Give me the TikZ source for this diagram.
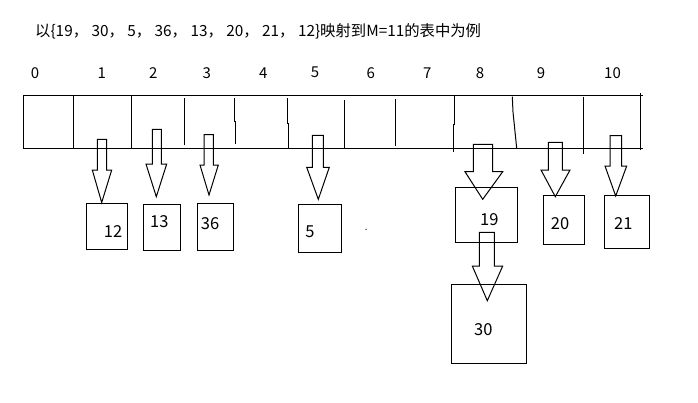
\documentclass[tikz,border=0pt]{standalone}
\usepackage{fontspec}
\setmainfont{Noto Sans CJK SC}
\newfontfamily\cjk{Noto Sans CJK SC}
\tikzset{
  ln/.style={draw=black, line width=1pt},
  boxn/.style={draw=black, line width=1pt, inner sep=0pt},
  idx/.style={font=\fontsize{15}{17}\selectfont, inner sep=0pt},
  val/.style={font=\fontsize{16.5}{19}\selectfont, inner sep=0pt},
  barrow/.style={draw=black, line width=1pt, line join=miter},
}
% block arrow: shaft left, shaft right, top y, shaft bottom y, head left, head right, tip x, tip y
\newcommand\blkarrow[8]{%
  \draw[barrow] (#1,#3) -- (#2,#3) -- (#2,#4) -- (#6,#4) -- (#7,#8) -- (#5,#4) -- (#1,#4) -- cycle;}
\begin{document}
\begin{tikzpicture}[x=1pt,y=-1pt]
\useasboundingbox (0,0) rectangle (698,402);
% title
\node[anchor=west, inner sep=0pt, font=\fontsize{15.35}{18}\selectfont] (title) at (35,31.5) {以\{19， 30， 5， 36， 13， 20， 21， 12\}映射到M=11的表中为例};
% index labels
\node[idx] (i0) at (35,72.7) {0};
\node[idx] (i1) at (101.7,72.7) {1};
\node[idx] (i2) at (153.3,72.7) {2};
\node[idx] (i3) at (206.7,72.7) {3};
\node[idx] (i4) at (263.3,72.7) {4};
\node[idx] (i5) at (315,72.7) {5};
\node[idx] (i6) at (370.7,72.7) {6};
\node[idx] (i7) at (427.3,72.7) {7};
\node[idx] (i8) at (480,72.7) {8};
\node[idx] (i9) at (541,72.7) {9};
\node[idx] (i10) at (612.5,72.7) {10};
% table
\draw[ln] (23.3,95) -- (642.7,95);
\draw[ln] (23.3,148.3) -- (642.7,148.3);
\draw[ln] (23.3,95) -- (23.3,148.3);
\draw[ln] (73.3,95) -- (73.3,148.3);
\draw[ln] (131.7,95) -- (131.7,148.3);
\draw[ln] (184.3,98.3) -- (184.3,145);
\draw[ln] (234.3,98) -- (234.3,121) -- (235,121) -- (235,144);
\draw[ln] (287.7,98.3) -- (287.7,123) -- (288.3,123) -- (288.3,148.3);
\draw[ln] (344,100) -- (344,148.3);
\draw[ln] (395.3,99.3) -- (395.3,146);
\draw[ln] (454.3,95) -- (454.3,124) -- (453.7,124) -- (453.7,151.7);
\draw[ln] (512.3,96.7) -- (513,112) -- (516.7,148.3);
\draw[ln] (583.3,96.7) -- (583.3,154);
\draw[ln] (640,93) -- (640,122) -- (640.7,122) -- (640.7,150);
% boxes
\node[boxn, minimum width=41.3pt, minimum height=46pt] (b12) at (106.7,226.3) {};
\node[boxn, minimum width=37pt, minimum height=46.4pt] (b13) at (161.8,227.5) {};
\node[boxn, minimum width=35.6pt, minimum height=46.7pt] (b36) at (215.5,226.7) {};
\node[boxn, minimum width=43.4pt, minimum height=47.7pt] (b5) at (320,228.8) {};
\node[boxn, minimum width=61.7pt, minimum height=55.4pt] (b19) at (486.8,215) {};
\node[boxn, minimum width=41pt, minimum height=49.3pt] (b20) at (563.8,219.7) {};
\node[boxn, minimum width=45pt, minimum height=53.3pt] (b21) at (626.8,221.7) {};
\node[boxn, minimum width=75pt, minimum height=79pt] (b30) at (489.2,323.8) {};
% values
\node[val] (t12) at (113,232) {12};
\node[val] (t13) at (159.3,221.2) {13};
\node[val] (t36) at (210,223.3) {36};
\node[val] (t5) at (310,231.7) {5};
\node[val] (t19) at (489.3,219.5) {19};
\node[val] (t20) at (560,223.3) {20};
\node[val] (t21) at (623.3,224) {21};
\node[val] (t30) at (483.3,329.3) {30};
% speck
\fill (366,229.3) circle (0.7pt);
% block arrows
\blkarrow{97.3}{106.7}{139.3}{170}{92.3}{111.7}{101.7}{202.5}
\blkarrow{152.3}{161.3}{129.3}{164}{146}{166.7}{156.3}{196.7}
\blkarrow{204}{213.3}{134.7}{165}{200}{218.3}{209}{195}
\blkarrow{312.3}{323.3}{135.3}{167.3}{306.7}{329.3}{318.3}{199.3}
\blkarrow{473.3}{492.7}{144.3}{171.7}{465}{502.7}{482.7}{199.3}
\blkarrow{548.3}{562.3}{142.3}{170}{541}{570}{555.3}{196.7}
\blkarrow{610}{621.7}{135.7}{166}{605}{626.7}{615.7}{196}
\blkarrow{479.3}{494.3}{232.3}{266}{472.3}{502.7}{487.3}{300.7}
\end{tikzpicture}
\end{document}
